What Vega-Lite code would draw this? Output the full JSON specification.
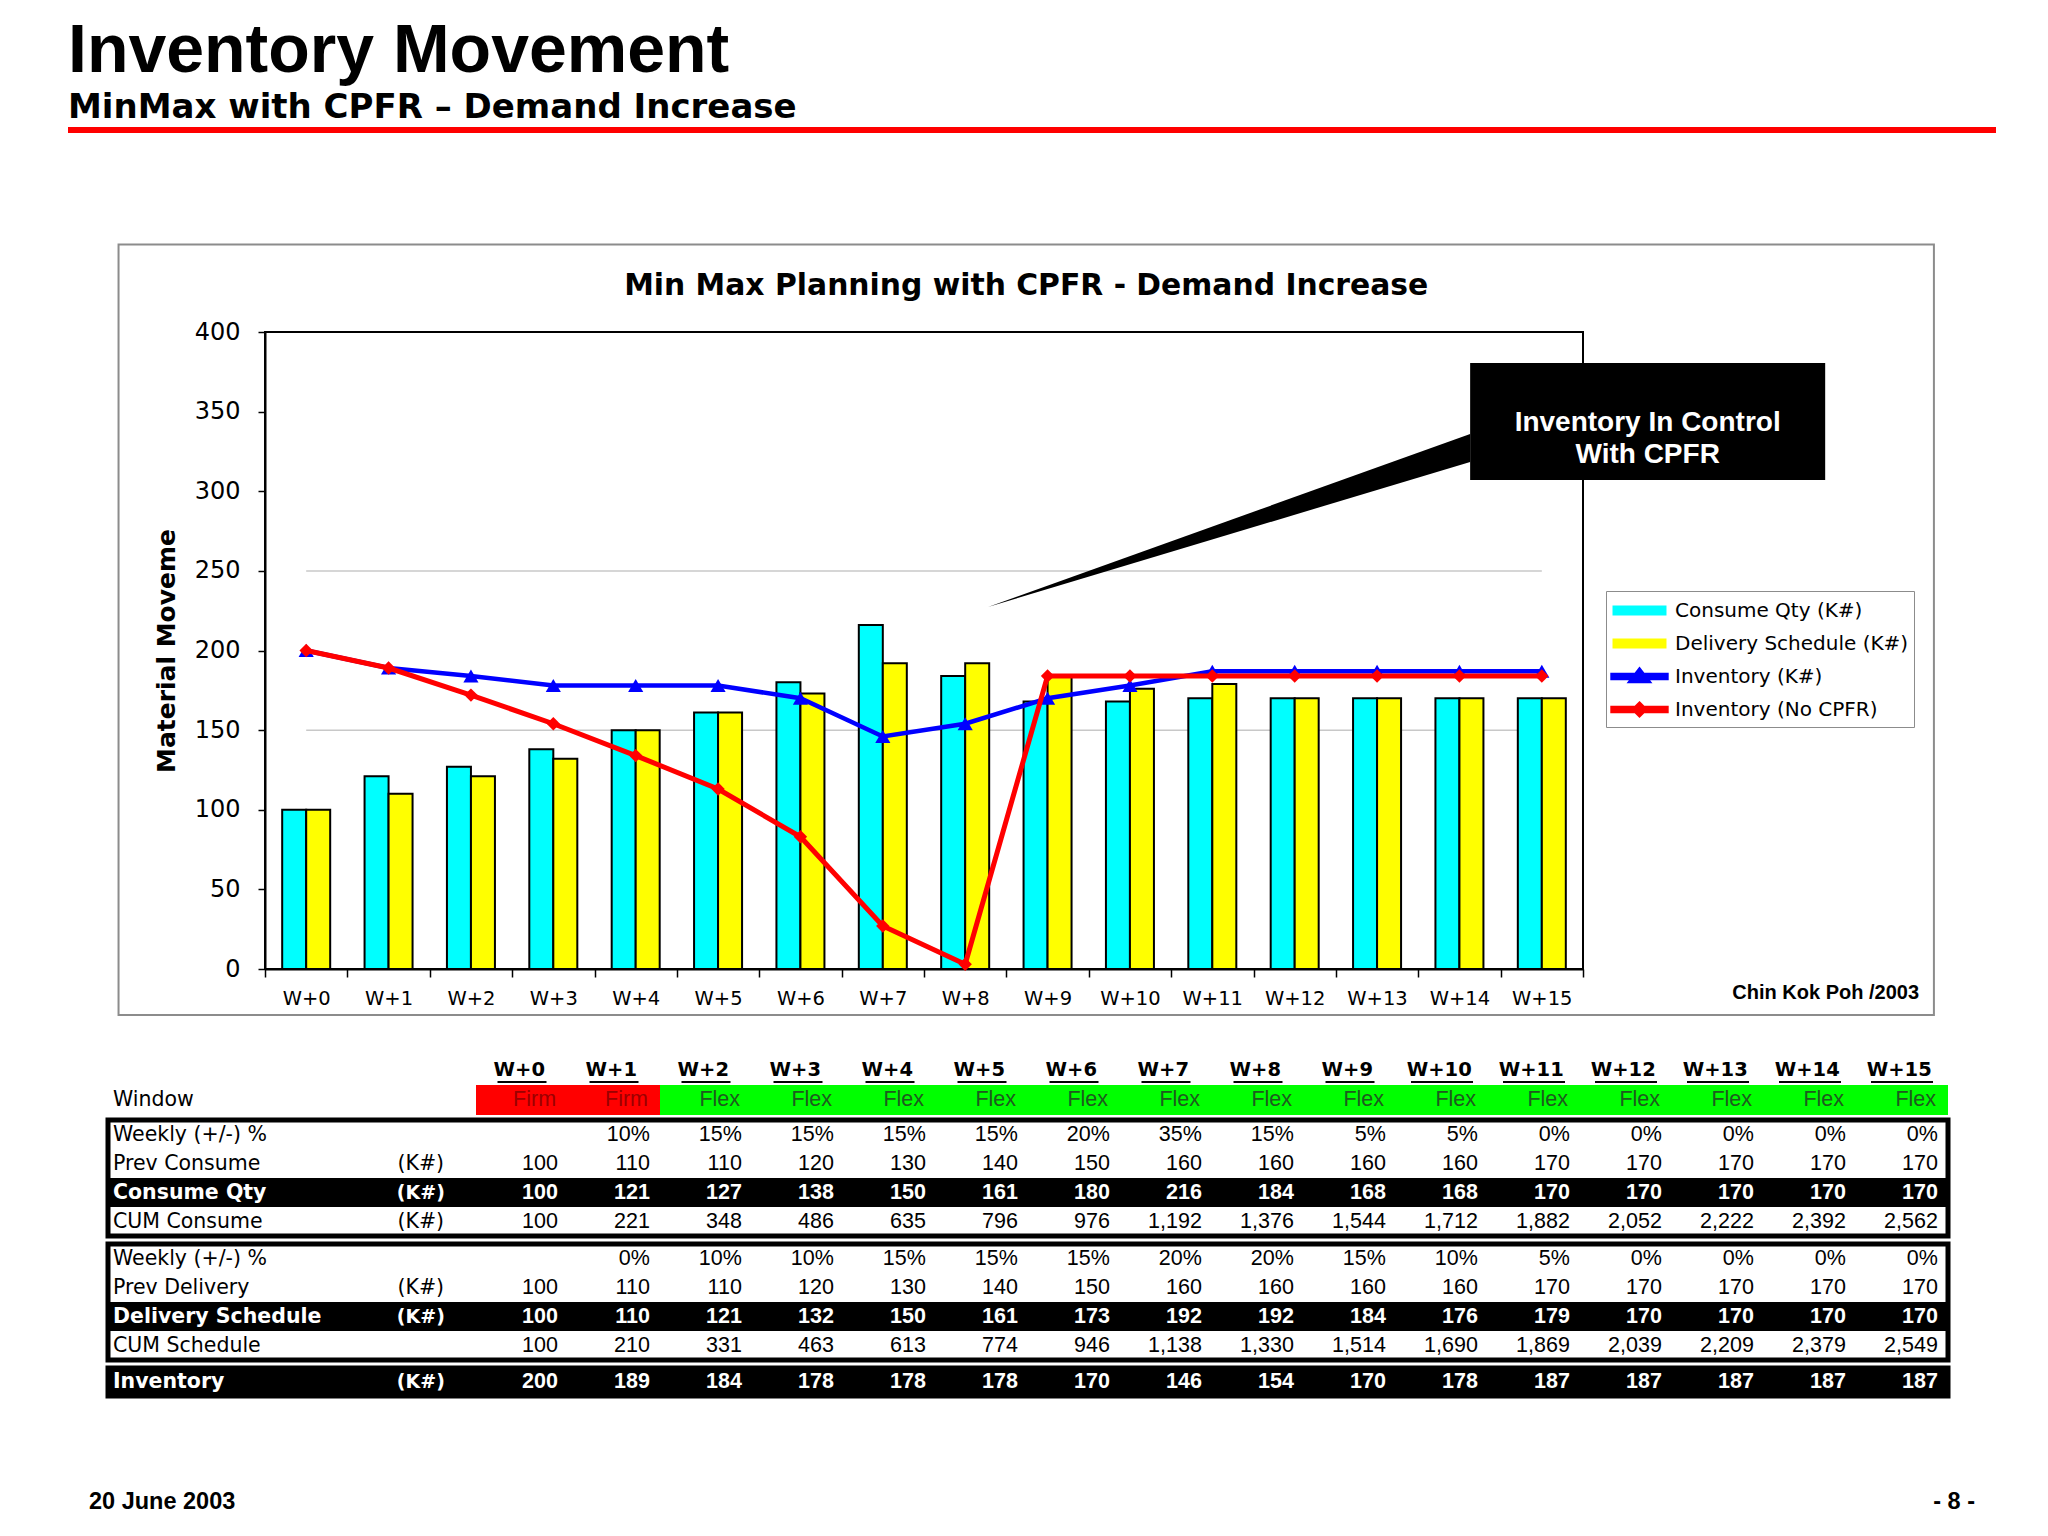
{
  "$schema": "https://vega.github.io/schema/vega-lite/v6.json",
  "background": "white",
  "padding": {"left": 68, "top": 18, "right": 0, "bottom": 0},
  "config": {"view": {"stroke": null}},
  "datasets": {
    "weeks": [
      {"week":"W+0","window":"Firm","cons_pct":null,"prev_cons":100,"consume":100,"cum_cons":100,"del_pct":null,"prev_del":100,"delivery":100,"cum_sched":100,"inventory":200,"nocpfr":200,"min":150,"max":250},
      {"week":"W+1","window":"Firm","cons_pct":0.10,"prev_cons":110,"consume":121,"cum_cons":221,"del_pct":0.00,"prev_del":110,"delivery":110,"cum_sched":210,"inventory":189,"nocpfr":189,"min":150,"max":250},
      {"week":"W+2","window":"Flex","cons_pct":0.15,"prev_cons":110,"consume":127,"cum_cons":348,"del_pct":0.10,"prev_del":110,"delivery":121,"cum_sched":331,"inventory":184,"nocpfr":172,"min":150,"max":250},
      {"week":"W+3","window":"Flex","cons_pct":0.15,"prev_cons":120,"consume":138,"cum_cons":486,"del_pct":0.10,"prev_del":120,"delivery":132,"cum_sched":463,"inventory":178,"nocpfr":154,"min":150,"max":250},
      {"week":"W+4","window":"Flex","cons_pct":0.15,"prev_cons":130,"consume":150,"cum_cons":635,"del_pct":0.15,"prev_del":130,"delivery":150,"cum_sched":613,"inventory":178,"nocpfr":134,"min":150,"max":250},
      {"week":"W+5","window":"Flex","cons_pct":0.15,"prev_cons":140,"consume":161,"cum_cons":796,"del_pct":0.15,"prev_del":140,"delivery":161,"cum_sched":774,"inventory":178,"nocpfr":113,"min":150,"max":250},
      {"week":"W+6","window":"Flex","cons_pct":0.20,"prev_cons":150,"consume":180,"cum_cons":976,"del_pct":0.15,"prev_del":150,"delivery":173,"cum_sched":946,"inventory":170,"nocpfr":83,"min":150,"max":250},
      {"week":"W+7","window":"Flex","cons_pct":0.35,"prev_cons":160,"consume":216,"cum_cons":1192,"del_pct":0.20,"prev_del":160,"delivery":192,"cum_sched":1138,"inventory":146,"nocpfr":27,"min":150,"max":250},
      {"week":"W+8","window":"Flex","cons_pct":0.15,"prev_cons":160,"consume":184,"cum_cons":1376,"del_pct":0.20,"prev_del":160,"delivery":192,"cum_sched":1330,"inventory":154,"nocpfr":3,"min":150,"max":250},
      {"week":"W+9","window":"Flex","cons_pct":0.05,"prev_cons":160,"consume":168,"cum_cons":1544,"del_pct":0.15,"prev_del":160,"delivery":184,"cum_sched":1514,"inventory":170,"nocpfr":184,"min":150,"max":250},
      {"week":"W+10","window":"Flex","cons_pct":0.05,"prev_cons":160,"consume":168,"cum_cons":1712,"del_pct":0.10,"prev_del":160,"delivery":176,"cum_sched":1690,"inventory":178,"nocpfr":184,"min":150,"max":250},
      {"week":"W+11","window":"Flex","cons_pct":0.00,"prev_cons":170,"consume":170,"cum_cons":1882,"del_pct":0.05,"prev_del":170,"delivery":179,"cum_sched":1869,"inventory":187,"nocpfr":184,"min":150,"max":250},
      {"week":"W+12","window":"Flex","cons_pct":0.00,"prev_cons":170,"consume":170,"cum_cons":2052,"del_pct":0.00,"prev_del":170,"delivery":170,"cum_sched":2039,"inventory":187,"nocpfr":184,"min":150,"max":250},
      {"week":"W+13","window":"Flex","cons_pct":0.00,"prev_cons":170,"consume":170,"cum_cons":2222,"del_pct":0.00,"prev_del":170,"delivery":170,"cum_sched":2209,"inventory":187,"nocpfr":184,"min":150,"max":250},
      {"week":"W+14","window":"Flex","cons_pct":0.00,"prev_cons":170,"consume":170,"cum_cons":2392,"del_pct":0.00,"prev_del":170,"delivery":170,"cum_sched":2379,"inventory":187,"nocpfr":184,"min":150,"max":250},
      {"week":"W+15","window":"Flex","cons_pct":0.00,"prev_cons":170,"consume":170,"cum_cons":2562,"del_pct":0.00,"prev_del":170,"delivery":170,"cum_sched":2549,"inventory":187,"nocpfr":184,"min":150,"max":250}
    ],
    "rowLabels": [
      {"tbl":"window","key":"window","label":"Window","unit":""},
      {"tbl":"consume","key":"cons_pct","label":"Weekly (+/-) %","unit":""},
      {"tbl":"consume","key":"prev_cons","label":"Prev Consume","unit":"(K#)"},
      {"tbl":"consume","key":"consume","label":"Consume Qty","unit":"(K#)"},
      {"tbl":"consume","key":"cum_cons","label":"CUM Consume","unit":"(K#)"},
      {"tbl":"delivery","key":"del_pct","label":"Weekly (+/-) %","unit":""},
      {"tbl":"delivery","key":"prev_del","label":"Prev Delivery","unit":"(K#)"},
      {"tbl":"delivery","key":"delivery","label":"Delivery Schedule","unit":"(K#)"},
      {"tbl":"delivery","key":"cum_sched","label":"CUM Schedule","unit":""},
      {"tbl":"inventory","key":"inventory","label":"Inventory","unit":"(K#)"}
    ]
  },
  "spacing": 90,
  "resolve": {"scale": {"color": "independent"}, "legend": {"color": "independent"}},
  "vconcat": [
    {
      "spacing": 109,
      "resolve": {"scale": {"color": "independent"}, "legend": {"color": "independent"}},
      "vconcat": [
        {
          "width": 1928,
          "height": 6,
          "view": {"fill": "#FF0000", "stroke": null},
          "title": {"text": "Inventory Movement", "subtitle": "MinMax with CPFR – Demand Increase", "anchor": "start", "frame": "group", "font": "Liberation Sans", "fontSize": 68, "fontWeight": "bold", "color": "black", "subtitleFont": "DejaVu Sans", "subtitleFontSize": 34, "subtitleFontWeight": "bold", "subtitleColor": "black", "subtitlePadding": 5, "offset": 2},
          "data": {"values": [{}]},
          "mark": {"type": "rect", "color": "#FF0000"},
          "encoding": {}
        },
        {
          "spacing": 37,
          "resolve": {"scale": {"color": "independent"}, "legend": {"color": "independent"}},
          "vconcat": [
            {
              "align": "none",
              "spacing": 0,
              "resolve": {"scale": {"color": "independent"}, "legend": {"color": "independent"}},
              "hconcat": [
                {
                  "width": 48,
                  "height": 1,
                  "data": {"values": []},
                  "mark": {"type": "point"},
                  "encoding": {}
                },
                {
                  "width": 1318,
                  "height": 637,
                  "view": {"stroke": "black", "strokeWidth": 2},
                  "resolve": {"scale": {"x": "independent", "y": "independent"}},
                  "layer": [
                    {
                      "data": {"name": "weeks"},
                      "layer": [
                        {
                          "mark": {"type": "line", "color": "#C8C8C8", "strokeWidth": 1.5},
                          "encoding": {
                            "x": {"field": "week", "type": "nominal", "title": null, "scale": {"type": "band", "domain": ["W+0","W+1","W+2","W+3","W+4","W+5","W+6","W+7","W+8","W+9","W+10","W+11","W+12","W+13","W+14","W+15"], "paddingInner": 0, "paddingOuter": 0},
                              "axis": {"tickBand": "extent", "grid": false, "domainColor": "black", "domainWidth": 2, "tickColor": "black", "tickWidth": 1.5, "tickSize": 8, "labelFont": "DejaVu Sans", "labelFontSize": 19.5, "labelColor": "black", "labelPadding": 12, "labelAngle": 0}},
                            "y": {"field": "min", "type": "quantitative", "title": "Material Moveme", "scale": {"domain": [0, 400], "nice": false},
                              "axis": {"values": [0,50,100,150,200,250,300,350,400], "grid": false, "domainColor": "black", "domainWidth": 2, "tickColor": "black", "tickWidth": 1.5, "tickSize": 7, "labelFont": "DejaVu Sans", "labelFontSize": 24, "labelColor": "black", "labelPadding": 18, "titleFont": "DejaVu Sans", "titleFontWeight": "bold", "titleFontSize": 25, "titleColor": "black", "titlePadding": 15}}
                          }
                        },
                        {
                          "mark": {"type": "line", "color": "#C8C8C8", "strokeWidth": 1.5},
                          "encoding": {
                            "x": {"field": "week", "type": "nominal", "title": null},
                            "y": {"field": "max", "type": "quantitative", "title": "Material Moveme"}
                          }
                        },
                        {
                          "transform": [{"fold": ["consume", "delivery"], "as": ["series", "val"]}],
                          "mark": {"type": "bar", "stroke": "black", "strokeWidth": 2},
                          "encoding": {
                            "x": {"field": "week", "type": "nominal", "title": null},
                            "xOffset": {"field": "series", "type": "nominal", "scale": {"domain": ["consume", "delivery"], "paddingInner": 0, "paddingOuter": 0.716}},
                            "y": {"field": "val", "type": "quantitative", "title": "Material Moveme"},
                            "color": {"field": "series", "type": "nominal",
                              "scale": {"domain": ["consume", "delivery", "inventory", "nocpfr"], "range": ["#00FFFF", "#FFFF00", "#0000FF", "#FF0000"]},
                              "legend": {
                                "orient": "none", "legendX": 1341, "legendY": 259, "title": null, "direction": "vertical",
                                "symbolSize": 676, "symbolOffset": 14, "symbolStrokeWidth": 2.5, "labelOffset": 21, "rowPadding": 8, "padding": 5,
                                "strokeColor": "#8C8C8C", "fillColor": "white",
                                "labelFont": "DejaVu Sans", "labelFontSize": 20, "labelColor": "black", "labelLimit": 250,
                                "labelExpr": "datum.value === 'consume' ? 'Consume Qty (K#)' : datum.value === 'delivery' ? 'Delivery Schedule (K#)' : datum.value === 'inventory' ? 'Inventory (K#)' : 'Inventory (No CPFR)'",
                                "encode": {"symbols": {"update": {
                                  "shape": {"signal": "datum.value === 'consume' || datum.value === 'delivery' ? 'M-1.98,-0.29H1.98V0.29H-1.98Z' : datum.value === 'inventory' ? 'M-2.15,-0.19H2.15V0.19H-2.15Z M0,-0.62L0.8,0.42H-0.8Z' : 'M-2.15,-0.2H2.15V0.2H-2.15Z M0,-0.52L0.52,0L0,0.52L-0.52,0Z'"},
                                  "fill": {"scale": "color", "field": "value"},
                                  "stroke": {"signal": "datum.value === 'consume' || datum.value === 'delivery' ? 'black' : 'transparent'"},
                                  "strokeWidth": {"value": 2.5},
                                  "opacity": {"value": 1}
                                }}}
                              }
                            }
                          }
                        },
                        {
                          "mark": {"type": "line", "strokeWidth": 4.5, "point": {"filled": true, "shape": "triangle-up", "size": 230}},
                          "encoding": {
                            "x": {"field": "week", "type": "nominal", "title": null},
                            "y": {"field": "inventory", "type": "quantitative", "title": "Material Moveme"},
                            "color": {"datum": "inventory", "type": "nominal",
                              "legend": {
                                "orient": "none", "legendX": 1341, "legendY": 259, "title": null, "direction": "vertical",
                                "symbolSize": 676, "symbolOffset": 14, "symbolStrokeWidth": 2.5, "labelOffset": 21, "rowPadding": 8, "padding": 5,
                                "strokeColor": "#8C8C8C", "fillColor": "white",
                                "labelFont": "DejaVu Sans", "labelFontSize": 20, "labelColor": "black", "labelLimit": 250,
                                "labelExpr": "datum.value === 'consume' ? 'Consume Qty (K#)' : datum.value === 'delivery' ? 'Delivery Schedule (K#)' : datum.value === 'inventory' ? 'Inventory (K#)' : 'Inventory (No CPFR)'",
                                "encode": {"symbols": {"update": {
                                  "shape": {"signal": "datum.value === 'consume' || datum.value === 'delivery' ? 'M-1.98,-0.29H1.98V0.29H-1.98Z' : datum.value === 'inventory' ? 'M-2.15,-0.19H2.15V0.19H-2.15Z M0,-0.62L0.8,0.42H-0.8Z' : 'M-2.15,-0.2H2.15V0.2H-2.15Z M0,-0.52L0.52,0L0,0.52L-0.52,0Z'"},
                                  "fill": {"scale": "color", "field": "value"},
                                  "stroke": {"signal": "datum.value === 'consume' || datum.value === 'delivery' ? 'black' : 'transparent'"},
                                  "strokeWidth": {"value": 2.5},
                                  "opacity": {"value": 1}
                                }}}
                              }
                            }
                          }
                        },
                        {
                          "mark": {"type": "line", "strokeWidth": 5, "point": {"filled": true, "shape": "diamond", "size": 180}},
                          "encoding": {
                            "x": {"field": "week", "type": "nominal", "title": null},
                            "y": {"field": "nocpfr", "type": "quantitative", "title": "Material Moveme"},
                            "color": {"datum": "nocpfr", "type": "nominal",
                              "legend": {
                                "orient": "none", "legendX": 1341, "legendY": 259, "title": null, "direction": "vertical",
                                "symbolSize": 676, "symbolOffset": 14, "symbolStrokeWidth": 2.5, "labelOffset": 21, "rowPadding": 8, "padding": 5,
                                "strokeColor": "#8C8C8C", "fillColor": "white",
                                "labelFont": "DejaVu Sans", "labelFontSize": 20, "labelColor": "black", "labelLimit": 250,
                                "labelExpr": "datum.value === 'consume' ? 'Consume Qty (K#)' : datum.value === 'delivery' ? 'Delivery Schedule (K#)' : datum.value === 'inventory' ? 'Inventory (K#)' : 'Inventory (No CPFR)'",
                                "encode": {"symbols": {"update": {
                                  "shape": {"signal": "datum.value === 'consume' || datum.value === 'delivery' ? 'M-1.98,-0.29H1.98V0.29H-1.98Z' : datum.value === 'inventory' ? 'M-2.15,-0.19H2.15V0.19H-2.15Z M0,-0.62L0.8,0.42H-0.8Z' : 'M-2.15,-0.2H2.15V0.2H-2.15Z M0,-0.52L0.52,0L0,0.52L-0.52,0Z'"},
                                  "fill": {"scale": "color", "field": "value"},
                                  "stroke": {"signal": "datum.value === 'consume' || datum.value === 'delivery' ? 'black' : 'transparent'"},
                                  "strokeWidth": {"value": 2.5},
                                  "opacity": {"value": 1}
                                }}}
                              }
                            }
                          }
                        }
                      ]
                    },
                    {
                      "layer": [
                        {
                          "data": {"values": [{}]},
                          "mark": {"type": "rect", "filled": false, "stroke": "#8C8C8C", "strokeWidth": 2},
                          "encoding": {
                            "x": {"datum": -1.778, "type": "quantitative", "scale": {"domain": [0, 16], "nice": false, "zero": false}, "axis": null},
                            "x2": {"datum": 20.26},
                            "y": {"datum": 454.9, "type": "quantitative", "scale": {"domain": [0, 400], "nice": false}, "axis": null},
                            "y2": {"datum": -28.9}
                          }
                        },
                        {
                          "data": {"values": [{"note": "Min Max Planning with CPFR - Demand Increase"}]},
                          "mark": {"type": "text", "color": "black", "font": "DejaVu Sans", "fontWeight": "bold", "fontSize": 29.8, "align": "center", "baseline": "alphabetic"},
                          "encoding": {
                            "x": {"datum": 9.241, "type": "quantitative", "axis": null},
                            "y": {"datum": 423.5, "type": "quantitative", "axis": null},
                            "text": {"field": "note"}
                          }
                        },
                        {
                          "data": {"values": [{"ax": 8.777, "ay": 227.3, "ay2": 227.3}, {"ax": 14.63, "ay": 318.4, "ay2": 335.9}]},
                          "mark": {"type": "area", "color": "black", "opacity": 1},
                          "encoding": {
                            "x": {"field": "ax", "type": "quantitative", "axis": null},
                            "y": {"field": "ay", "type": "quantitative", "axis": null},
                            "y2": {"field": "ay2"}
                          }
                        },
                        {
                          "data": {"values": [{}]},
                          "mark": {"type": "rect", "color": "black"},
                          "encoding": {
                            "x": {"datum": 14.63, "type": "quantitative", "axis": null},
                            "x2": {"datum": 18.94},
                            "y": {"datum": 380.5, "type": "quantitative", "axis": null},
                            "y2": {"datum": 307.1}
                          }
                        },
                        {
                          "data": {"values": [{"note": ["Inventory In Control", "With CPFR"]}]},
                          "mark": {"type": "text", "color": "white", "font": "Liberation Sans", "fontWeight": "bold", "fontSize": 28, "lineHeight": 32, "align": "center", "baseline": "middle"},
                          "encoding": {
                            "x": {"datum": 16.785, "type": "quantitative", "axis": null},
                            "y": {"datum": 342.9, "type": "quantitative", "axis": null},
                            "text": {"field": "note"}
                          }
                        },
                        {
                          "data": {"values": [{"note": "Chin Kok Poh /2003"}]},
                          "mark": {"type": "text", "color": "black", "font": "Liberation Sans", "fontWeight": "bold", "fontSize": 20, "align": "right", "baseline": "middle"},
                          "encoding": {
                            "x": {"datum": 20.08, "type": "quantitative", "axis": null},
                            "y": {"datum": -15.1, "type": "quantitative", "axis": null},
                            "text": {"field": "note"}
                          }
                        }
                      ]
                    }
                  ]
                }
              ]
            },
            {
              "align": "none",
              "spacing": 0,
              "hconcat": [
                {
                  "width": 37,
                  "height": 1,
                  "data": {"values": []},
                  "mark": {"type": "point"},
                  "encoding": {}
                },
                {
                  "spacing": 2,
                  "vconcat": [
                    {
                      "width": 1840,
                      "height": 60,
                      "layer": [
                        {
                          "data": {"name": "weeks"},
                          "mark": {"type": "rect"},
                          "encoding": {
                            "x": {"field": "week", "type": "nominal", "axis": null, "scale": {"type": "band", "domain": ["label","c1","c2","unit","W+0","W+1","W+2","W+3","W+4","W+5","W+6","W+7","W+8","W+9","W+10","W+11","W+12","W+13","W+14","W+15"], "paddingInner": 0, "paddingOuter": 0}},
                            "y": {"datum": "window", "type": "nominal", "axis": null, "scale": {"type": "band", "domain": ["hdr", "window"], "paddingInner": 0, "paddingOuter": 0}},
                            "fill": {"condition": {"test": "datum.window === 'Firm'", "value": "#FF0000"}, "value": "#00FF00"}
                          }
                        },
                        {
                          "data": {"name": "weeks"},
                          "mark": {"type": "text", "font": "DejaVu Sans", "fontWeight": "bold", "fontSize": 19.5, "color": "black", "align": "center", "baseline": "middle"},
                          "encoding": {
                            "x": {"field": "week", "type": "nominal", "bandPosition": 0.47},
                            "y": {"datum": "hdr", "type": "nominal"},
                            "text": {"field": "week"}
                          }
                        },
                        {
                          "data": {"name": "weeks"},
                          "transform": [{"filter": "length(datum.week) <= 3"}],
                          "mark": {"type": "tick", "orient": "horizontal", "thickness": 2, "color": "black", "opacity": 1},
                          "encoding": {
                            "x": {"field": "week", "type": "nominal", "bandPosition": 0.47},
                            "y": {"datum": "hdr", "type": "nominal", "bandPosition": 0.9},
                            "size": {"value": 49}
                          }
                        },
                        {
                          "data": {"name": "weeks"},
                          "transform": [{"filter": "length(datum.week) > 3"}],
                          "mark": {"type": "tick", "orient": "horizontal", "thickness": 2, "color": "black", "opacity": 1},
                          "encoding": {
                            "x": {"field": "week", "type": "nominal", "bandPosition": 0.47},
                            "y": {"datum": "hdr", "type": "nominal", "bandPosition": 0.9},
                            "size": {"value": 62}
                          }
                        },
                        {
                          "data": {"name": "weeks"},
                          "mark": {"type": "text", "font": "Liberation Sans", "fontSize": 21.5, "align": "right", "baseline": "middle"},
                          "encoding": {
                            "x": {"field": "week", "type": "nominal", "bandPosition": 0.87},
                            "y": {"datum": "window", "type": "nominal"},
                            "text": {"field": "window"},
                            "color": {"condition": {"test": "datum.window === 'Firm'", "value": "#9B0000"}, "value": "#1E5A1E"}
                          }
                        },
                        {
                          "data": {"name": "rowLabels"},
                          "transform": [{"filter": "datum.tbl === 'window'"}],
                          "mark": {"type": "text", "font": "DejaVu Sans", "fontSize": 20.5, "color": "black", "align": "left", "baseline": "middle"},
                          "encoding": {
                            "x": {"datum": "label", "type": "nominal", "bandPosition": 0.054},
                            "y": {"field": "key", "type": "nominal"},
                            "text": {"field": "label"}
                          }
                        }
                      ]
                    },
                    {
                      "width": 1840,
                      "height": 116,
                      "view": {"stroke": "black", "strokeWidth": 5, "fill": "white"},
                      "layer": [
                        {
                          "data": {"values": [{}]},
                          "mark": {"type": "rect", "color": "black"},
                          "encoding": {
                            "y": {"datum": "consume", "type": "nominal", "axis": null, "scale": {"type": "band", "domain": ["cons_pct", "prev_cons", "consume", "cum_cons"], "paddingInner": 0, "paddingOuter": 0}}
                          }
                        },
                        {
                          "data": {"name": "rowLabels"},
                          "transform": [{"filter": "datum.tbl === 'consume' && datum.key !== 'consume'"}],
                          "mark": {"type": "text", "font": "DejaVu Sans", "fontSize": 20.5, "color": "black", "align": "left", "baseline": "middle"},
                          "encoding": {
                            "x": {"datum": "label", "type": "nominal", "bandPosition": 0.054, "axis": null, "scale": {"type": "band", "domain": ["label","c1","c2","unit","W+0","W+1","W+2","W+3","W+4","W+5","W+6","W+7","W+8","W+9","W+10","W+11","W+12","W+13","W+14","W+15"], "paddingInner": 0, "paddingOuter": 0}},
                            "y": {"field": "key", "type": "nominal"},
                            "text": {"field": "label"}
                          }
                        },
                        {
                          "data": {"name": "rowLabels"},
                          "transform": [{"filter": "datum.tbl === 'consume' && datum.key !== 'consume'"}],
                          "mark": {"type": "text", "font": "DejaVu Sans", "fontSize": 20.5, "color": "black", "align": "center", "baseline": "middle"},
                          "encoding": {
                            "x": {"datum": "unit", "type": "nominal", "bandPosition": 0.4},
                            "y": {"field": "key", "type": "nominal"},
                            "text": {"field": "unit"}
                          }
                        },
                        {
                          "data": {"name": "rowLabels"},
                          "transform": [{"filter": "datum.key === 'consume'"}],
                          "mark": {"type": "text", "font": "DejaVu Sans", "fontWeight": "bold", "fontSize": 20.5, "color": "white", "align": "left", "baseline": "middle"},
                          "encoding": {
                            "x": {"datum": "label", "type": "nominal", "bandPosition": 0.054},
                            "y": {"field": "key", "type": "nominal"},
                            "text": {"field": "label"}
                          }
                        },
                        {
                          "data": {"name": "rowLabels"},
                          "transform": [{"filter": "datum.key === 'consume'"}],
                          "mark": {"type": "text", "font": "DejaVu Sans", "fontWeight": "bold", "fontSize": 19, "color": "white", "align": "center", "baseline": "middle"},
                          "encoding": {
                            "x": {"datum": "unit", "type": "nominal", "bandPosition": 0.4},
                            "y": {"field": "key", "type": "nominal"},
                            "text": {"field": "unit"}
                          }
                        },
                        {
                          "data": {"name": "weeks"},
                          "transform": [{"filter": "isValid(datum.cons_pct)"}],
                          "mark": {"type": "text", "font": "Liberation Sans", "fontSize": 21.5, "color": "black", "align": "right", "baseline": "middle"},
                          "encoding": {
                            "x": {"field": "week", "type": "nominal", "bandPosition": 0.89},
                            "y": {"datum": "cons_pct", "type": "nominal"},
                            "text": {"field": "cons_pct", "type": "quantitative", "format": ".0%"}
                          }
                        },
                        {
                          "data": {"name": "weeks"},
                          "transform": [{"fold": ["prev_cons", "cum_cons"], "as": ["key", "val"]}],
                          "mark": {"type": "text", "font": "Liberation Sans", "fontSize": 21.5, "color": "black", "align": "right", "baseline": "middle"},
                          "encoding": {
                            "x": {"field": "week", "type": "nominal", "bandPosition": 0.89},
                            "y": {"field": "key", "type": "nominal"},
                            "text": {"field": "val", "type": "quantitative", "format": ","}
                          }
                        },
                        {
                          "data": {"name": "weeks"},
                          "mark": {"type": "text", "font": "Liberation Sans", "fontWeight": "bold", "fontSize": 21.5, "color": "white", "align": "right", "baseline": "middle"},
                          "encoding": {
                            "x": {"field": "week", "type": "nominal", "bandPosition": 0.89},
                            "y": {"datum": "consume", "type": "nominal"},
                            "text": {"field": "consume", "type": "quantitative", "format": ","}
                          }
                        }
                      ]
                    },
                    {
                      "width": 1840,
                      "height": 116,
                      "view": {"stroke": "black", "strokeWidth": 5, "fill": "white"},
                      "layer": [
                        {
                          "data": {"values": [{}]},
                          "mark": {"type": "rect", "color": "black"},
                          "encoding": {
                            "y": {"datum": "delivery", "type": "nominal", "axis": null, "scale": {"type": "band", "domain": ["del_pct", "prev_del", "delivery", "cum_sched"], "paddingInner": 0, "paddingOuter": 0}}
                          }
                        },
                        {
                          "data": {"name": "rowLabels"},
                          "transform": [{"filter": "datum.tbl === 'delivery' && datum.key !== 'delivery'"}],
                          "mark": {"type": "text", "font": "DejaVu Sans", "fontSize": 20.5, "color": "black", "align": "left", "baseline": "middle"},
                          "encoding": {
                            "x": {"datum": "label", "type": "nominal", "bandPosition": 0.054, "axis": null, "scale": {"type": "band", "domain": ["label","c1","c2","unit","W+0","W+1","W+2","W+3","W+4","W+5","W+6","W+7","W+8","W+9","W+10","W+11","W+12","W+13","W+14","W+15"], "paddingInner": 0, "paddingOuter": 0}},
                            "y": {"field": "key", "type": "nominal"},
                            "text": {"field": "label"}
                          }
                        },
                        {
                          "data": {"name": "rowLabels"},
                          "transform": [{"filter": "datum.tbl === 'delivery' && datum.key !== 'delivery'"}],
                          "mark": {"type": "text", "font": "DejaVu Sans", "fontSize": 20.5, "color": "black", "align": "center", "baseline": "middle"},
                          "encoding": {
                            "x": {"datum": "unit", "type": "nominal", "bandPosition": 0.4},
                            "y": {"field": "key", "type": "nominal"},
                            "text": {"field": "unit"}
                          }
                        },
                        {
                          "data": {"name": "rowLabels"},
                          "transform": [{"filter": "datum.key === 'delivery'"}],
                          "mark": {"type": "text", "font": "DejaVu Sans", "fontWeight": "bold", "fontSize": 20.5, "color": "white", "align": "left", "baseline": "middle"},
                          "encoding": {
                            "x": {"datum": "label", "type": "nominal", "bandPosition": 0.054},
                            "y": {"field": "key", "type": "nominal"},
                            "text": {"field": "label"}
                          }
                        },
                        {
                          "data": {"name": "rowLabels"},
                          "transform": [{"filter": "datum.key === 'delivery'"}],
                          "mark": {"type": "text", "font": "DejaVu Sans", "fontWeight": "bold", "fontSize": 19, "color": "white", "align": "center", "baseline": "middle"},
                          "encoding": {
                            "x": {"datum": "unit", "type": "nominal", "bandPosition": 0.4},
                            "y": {"field": "key", "type": "nominal"},
                            "text": {"field": "unit"}
                          }
                        },
                        {
                          "data": {"name": "weeks"},
                          "transform": [{"filter": "isValid(datum.del_pct)"}],
                          "mark": {"type": "text", "font": "Liberation Sans", "fontSize": 21.5, "color": "black", "align": "right", "baseline": "middle"},
                          "encoding": {
                            "x": {"field": "week", "type": "nominal", "bandPosition": 0.89},
                            "y": {"datum": "del_pct", "type": "nominal"},
                            "text": {"field": "del_pct", "type": "quantitative", "format": ".0%"}
                          }
                        },
                        {
                          "data": {"name": "weeks"},
                          "transform": [{"fold": ["prev_del", "cum_sched"], "as": ["key", "val"]}],
                          "mark": {"type": "text", "font": "Liberation Sans", "fontSize": 21.5, "color": "black", "align": "right", "baseline": "middle"},
                          "encoding": {
                            "x": {"field": "week", "type": "nominal", "bandPosition": 0.89},
                            "y": {"field": "key", "type": "nominal"},
                            "text": {"field": "val", "type": "quantitative", "format": ","}
                          }
                        },
                        {
                          "data": {"name": "weeks"},
                          "mark": {"type": "text", "font": "Liberation Sans", "fontWeight": "bold", "fontSize": 21.5, "color": "white", "align": "right", "baseline": "middle"},
                          "encoding": {
                            "x": {"field": "week", "type": "nominal", "bandPosition": 0.89},
                            "y": {"datum": "delivery", "type": "nominal"},
                            "text": {"field": "delivery", "type": "quantitative", "format": ","}
                          }
                        }
                      ]
                    },
                    {
                      "width": 1840,
                      "height": 28,
                      "view": {"stroke": "black", "strokeWidth": 5, "fill": "black"},
                      "layer": [
                        {
                          "data": {"name": "rowLabels"},
                          "transform": [{"filter": "datum.tbl === 'inventory'"}],
                          "mark": {"type": "text", "font": "DejaVu Sans", "fontWeight": "bold", "fontSize": 20.5, "color": "white", "align": "left", "baseline": "middle"},
                          "encoding": {
                            "x": {"datum": "label", "type": "nominal", "bandPosition": 0.054, "axis": null, "scale": {"type": "band", "domain": ["label","c1","c2","unit","W+0","W+1","W+2","W+3","W+4","W+5","W+6","W+7","W+8","W+9","W+10","W+11","W+12","W+13","W+14","W+15"], "paddingInner": 0, "paddingOuter": 0}},
                            "y": {"field": "key", "type": "nominal", "axis": null, "scale": {"type": "band", "domain": ["inventory"], "paddingInner": 0, "paddingOuter": 0}},
                            "text": {"field": "label"}
                          }
                        },
                        {
                          "data": {"name": "rowLabels"},
                          "transform": [{"filter": "datum.tbl === 'inventory'"}],
                          "mark": {"type": "text", "font": "DejaVu Sans", "fontWeight": "bold", "fontSize": 19, "color": "white", "align": "center", "baseline": "middle"},
                          "encoding": {
                            "x": {"datum": "unit", "type": "nominal", "bandPosition": 0.4},
                            "y": {"field": "key", "type": "nominal"},
                            "text": {"field": "unit"}
                          }
                        },
                        {
                          "data": {"name": "weeks"},
                          "mark": {"type": "text", "font": "Liberation Sans", "fontWeight": "bold", "fontSize": 21.5, "color": "white", "align": "right", "baseline": "middle"},
                          "encoding": {
                            "x": {"field": "week", "type": "nominal", "bandPosition": 0.89},
                            "y": {"datum": "inventory", "type": "nominal"},
                            "text": {"field": "inventory", "type": "quantitative", "format": ","}
                          }
                        }
                      ]
                    }
                  ]
                }
              ]
            }
          ]
        }
      ]
    },
    {
      "align": "none",
      "spacing": 0,
      "hconcat": [
        {
          "width": 21,
          "height": 1,
          "data": {"values": []},
          "mark": {"type": "point"},
          "encoding": {}
        },
        {
          "width": 1886,
          "height": 26,
          "data": {"values": [{"slot": "date", "label": "20 June 2003"}, {"slot": "page", "label": "- 8 -"}]},
          "layer": [
            {
              "transform": [{"filter": "datum.slot === 'date'"}],
              "mark": {"type": "text", "align": "left", "baseline": "middle", "font": "Liberation Sans", "fontWeight": "bold", "fontSize": 23.5, "color": "black"},
              "encoding": {
                "x": {"field": "slot", "type": "nominal", "bandPosition": 0, "axis": null, "scale": {"type": "band", "domain": ["date", "page"], "paddingInner": 0, "paddingOuter": 0}},
                "text": {"field": "label"}
              }
            },
            {
              "transform": [{"filter": "datum.slot === 'page'"}],
              "mark": {"type": "text", "align": "right", "baseline": "middle", "font": "Liberation Sans", "fontWeight": "bold", "fontSize": 23.5, "color": "black"},
              "encoding": {
                "x": {"field": "slot", "type": "nominal", "bandPosition": 1},
                "text": {"field": "label"}
              }
            }
          ]
        }
      ]
    }
  ]
}
